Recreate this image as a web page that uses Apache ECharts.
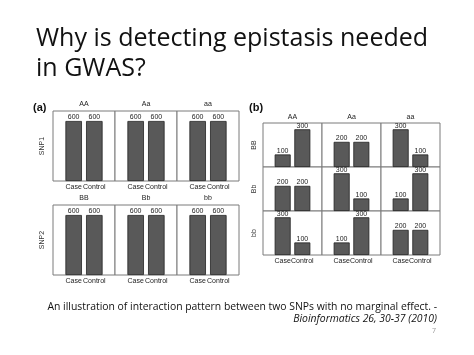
<!DOCTYPE html>
<html><head><meta charset="utf-8">
<script src="https://cdn.jsdelivr.net/npm/echarts@6/dist/echarts.min.js"></script>
<style>html,body{margin:0;padding:0;background:#fff}#c{width:474px;height:355px}</style>
</head><body><div id="c"></div>
<script>
// ---- data ----
const genotypesA = ['AA', 'Aa', 'aa'];
const genotypesB = ['BB', 'Bb', 'bb'];
const groups = ['Case', 'Control'];
const snpLabels = ['SNP1', 'SNP2'];
// panel (a): marginal counts
const snp1Case = [600, 600, 600];
const snp1Control = [600, 600, 600];
const snp2Case = [600, 600, 600];
const snp2Control = [600, 600, 600];
// panel (b): joint counts, rows = BB,Bb,bb ; cols = AA,Aa,aa
const jointCase = [[100, 200, 300], [200, 300, 100], [300, 100, 200]];
const jointControl = [[300, 200, 100], [200, 100, 300], [100, 300, 200]];

// ---- layout ----
const FONT = 'Liberation Sans';
const colA = [53, 115, 177, 239];
const rowA = [[111, 181], [205, 275]];
const colB = [263, 322, 381, 440];
const rowB = [[123, 167], [167, 211], [211, 255]];

const grids = [], xAxes = [], yAxes = [], series = [], graphics = [];
function addFacet(left, top, w, h, vals, ymax, yName, nameGap, showX, barW) {
  const i = grids.length;
  grids.push({left: left, top: top, width: w, height: h, show: true,
    borderColor: '#7a7a7a', borderWidth: 1, backgroundColor: '#fff', containLabel: false});
  xAxes.push({gridIndex: i, type: 'value', min: 0, max: 3, interval: 1,
    axisLine: {show: false}, axisTick: {show: false}, splitLine: {show: false},
    axisLabel: {show: showX, margin: 3, fontSize: 7, fontFamily: FONT, color: '#222',
      formatter: v => (v >= 1 && v <= 2) ? groups[v - 1] : ''}});
  yAxes.push({gridIndex: i, type: 'value', min: 0, max: ymax,
    axisLine: {show: false}, axisTick: {show: false}, splitLine: {show: false},
    axisLabel: {show: false},
    name: yName || '', nameLocation: 'middle', nameRotate: 90, nameGap: nameGap,
    nameTextStyle: {fontSize: 7, fontFamily: FONT, color: '#333'}});
  series.push({type: 'bar', xAxisIndex: i, yAxisIndex: i, barWidth: barW,
    data: vals.map((v, k) => [k + 1, v]),
    itemStyle: {color: '#595959', borderColor: '#222', borderWidth: 0.8},
    label: {show: true, position: 'top', distance: 0, fontSize: 7, fontFamily: FONT, color: '#222',
      formatter: p => p.value[1]}});
}

// panel (a)
const aRows = [[snp1Case, snp1Control], [snp2Case, snp2Control]];
const aHeads = [genotypesA, genotypesB];
for (let r = 0; r < 2; r++) {
  for (let c = 0; c < 3; c++) {
    addFacet(colA[c], rowA[r][0], colA[c + 1] - colA[c], rowA[r][1] - rowA[r][0],
      [aRows[r][0][c], aRows[r][1][c]], 700, c === 0 ? snpLabels[r] : '', 7, true, 16.5);
    graphics.push({type: 'text', x: (colA[c] + colA[c + 1]) / 2, y: rowA[r][0] - 7,
      style: {text: aHeads[r][c], font: '7px ' + FONT, fill: '#222', textAlign: 'center', textVerticalAlign: 'middle'}});
  }
}
// panel (b)
for (let r = 0; r < 3; r++) {
  for (let c = 0; c < 3; c++) {
    addFacet(colB[c], rowB[r][0], colB[c + 1] - colB[c], rowB[r][1] - rowB[r][0],
      [jointCase[r][c], jointControl[r][c]], 350, c === 0 ? genotypesB[r] : '', 5, r === 2, 16);
  }
}
for (let c = 0; c < 3; c++) {
  graphics.push({type: 'text', x: (colB[c] + colB[c + 1]) / 2, y: rowB[0][0] - 6,
    style: {text: genotypesA[c], font: '7px ' + FONT, fill: '#222', textAlign: 'center', textVerticalAlign: 'middle'}});
}

// slide texts
graphics.push({type: 'text', x: 36, y: 24,
  style: {text: 'Why is detecting epistasis needed\nin GWAS?', font: '25px "Open Sans"', lineHeight: 30, fill: '#111'}});
graphics.push({type: 'text', x: 33, y: 108,
  style: {text: '(a)', font: 'bold 11px ' + FONT, fill: '#111', textVerticalAlign: 'middle'}});
graphics.push({type: 'text', x: 249, y: 108,
  style: {text: '(b)', font: 'bold 11px ' + FONT, fill: '#111', textVerticalAlign: 'middle'}});
graphics.push({type: 'text', x: 437, y: 307,
  style: {text: 'An illustration of interaction pattern between two SNPs with no marginal effect. -', font: '10.4px "Open Sans"', fill: '#111', textAlign: 'right', textVerticalAlign: 'middle'}});
graphics.push({type: 'text', x: 437, y: 319.5,
  style: {text: 'Bioinformatics 26, 30-37 (2010)', font: 'italic 10.4px "Open Sans"', fill: '#111', textAlign: 'right', textVerticalAlign: 'middle'}});
graphics.push({type: 'text', x: 436, y: 331,
  style: {text: '7', font: '7px "Open Sans"', fill: '#999', textAlign: 'right', textVerticalAlign: 'middle'}});

const chart = echarts.init(document.getElementById('c'), null, {renderer: 'canvas'});
chart.setOption({
  animation: false, backgroundColor: '#fff',
  grid: grids, xAxis: xAxes, yAxis: yAxes, series: series, graphic: graphics
});
</script></body></html>
